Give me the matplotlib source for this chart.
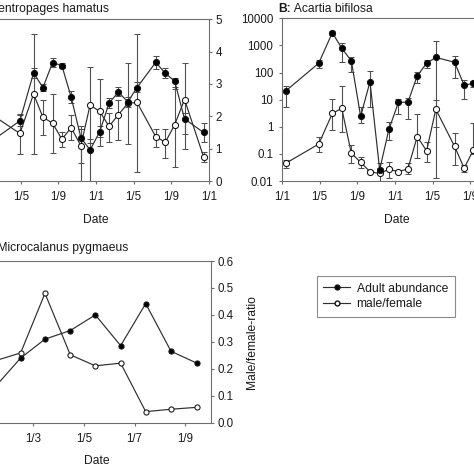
import matplotlib
matplotlib.use("Agg")
import matplotlib.pyplot as plt
from matplotlib.lines import Line2D
import numpy as np

plt.rcParams["font.family"] = ["Liberation Sans", "DejaVu Sans"]

# sampling dates in months from 1 Jan of the first year
dates = [0.4, 3.9, 5.35, 6.35, 7.37, 8.36, 9.35, 10.38, 11.36, 12.38,
         13.38, 14.37, 15.37, 16.35, 18.34, 19.36, 20.35, 21.4, 23.42]

# A: Centropages hamatus
a_adult = [1.13, 1.86, 3.34, 2.89, 3.66, 3.57, 2.59, 1.34, 0.96, 1.52,
           2.41, 2.75, 2.45, 2.89, 3.67, 3.33, 3.09, 1.92, 1.50]
a_adult_lo = [1.0, 1.7, 3.2, 2.78, 3.53, 3.48, 2.4, 0.0, 0.0, 1.37,
              2.25, 2.62, 2.3, 2.75, 3.45, 3.18, 2.85, 1.0, 1.22]
a_adult_hi = [1.3, 2.05, 3.48, 3.0, 3.8, 3.65, 2.78, 1.6, 1.3, 1.7,
              2.58, 2.9, 2.6, 3.05, 3.85, 3.48, 3.2, 2.1, 1.78]
a_ratio = [2.15, 1.47, 2.69, 1.97, 1.79, 1.29, 1.65, 1.09, 2.35, 2.15,
           1.69, 2.05, 2.40, 2.43, 1.37, 1.20, 1.74, 2.52, 0.75]
a_ratio_lo = [1.9, 0.83, 0.83, 1.41, 0.86, 1.04, 1.27, 0.55, 1.17, 1.09,
              1.2, 1.27, 1.15, 0.27, 1.04, 0.70, 0.42, 1.45, 0.6]
a_ratio_hi = [2.4, 2.08, 4.54, 2.52, 2.68, 1.5, 2.04, 1.70, 3.53, 3.16,
              2.1, 2.5, 3.66, 4.54, 1.6, 1.6, 2.9, 3.64, 0.9]

# B: Acartia bifilosa (first 17 dates)
b_adult = [21, 220, 2950, 790, 270, 2.4, 46, 0.026, 0.8, 8,
           8, 75, 220, 360, 240, 34, 40]
b_adult_lo = [5.5, 145, 2500, 250, 108, 1.35, 5.5, 0.02, 0.32, 3,
              2, 40, 145, 0.013, 62, 11, 30]
b_adult_hi = [32, 290, 3300, 1200, 390, 5.5, 117, 0.03, 1.5, 11,
              12, 108, 290, 1500, 410, 53, 50]
b_ratio = [0.045, 0.23, 3.1, 4.8, 0.105, 0.049, 0.022, 0.019, 0.027, 0.022,
           0.028, 0.43, 0.13, 4.4, 0.19, 0.03, 0.14]
b_ratio_lo = [0.03, 0.12, 0.76, 0.66, 0.045, 0.03, 0.019, 0.01, 0.013, 0.02,
              0.018, 0.069, 0.052, 1.0, 0.039, 0.022, 0.1]
b_ratio_hi = [0.06, 0.43, 11, 32, 0.21, 0.075, 0.026, 0.045, 0.05, 0.025,
              0.045, 2.9, 0.28, 10, 0.58, 0.04, 1.4]

# C: Microcalanus pygmaeus
c_dates = [0.5, 1.5, 2.46, 3.46, 4.45, 5.45, 6.44, 7.44, 8.46]
c_adult = [0.134, 0.24, 0.31, 0.342, 0.40, 0.286, 0.442, 0.265, 0.221]
c_ratio = [0.23, 0.259, 0.48, 0.252, 0.211, 0.221, 0.041, 0.050, 0.057]

two_year_ticks = [0, 4, 8, 12, 16, 20, 24]
two_year_labels = ["1/1", "1/5", "1/9", "1/1", "1/5", "1/9", "1/1"]
c_ticks = [2, 4, 6, 8]
c_labels = ["1/3", "1/5", "1/7", "1/9"]

W = H = 474
LINE = "#2e2e2e"
SPINE = "#6e6e6e"
TXT = "#1a1a1a"
FS = 8.7
fig = plt.figure(figsize=(4.74, 4.74), dpi=100)


def px_axes(x0, x1, y0, y1):
    return fig.add_axes([x0 / W, 1 - y1 / H, (x1 - x0) / W, (y1 - y0) / H])


def style(ax):
    for s in ax.spines.values():
        s.set_color(SPINE)
        s.set_linewidth(0.8)
    ax.tick_params(colors=SPINE, labelcolor=TXT, labelsize=8.3,
                   length=2.2, width=0.8)


def bars(ax, x, v, lo, hi, face, ms=4.4):
    v = np.array(v)
    err = [v - np.array(lo), np.array(hi) - v]
    ax.errorbar(x, v, yerr=err, fmt="o-", color=LINE, lw=0.85, ms=ms,
                mfc=face, mec="#111111", mew=0.75, ecolor="#505050",
                elinewidth=0.8, capsize=2.3, capthick=0.8)


def ftext(x, y, s, **kw):
    return fig.text(x / W, 1 - y / H, s, fontsize=FS, color=TXT, **kw)


def title(x, y, letter, name, anchor="left"):
    if anchor == "left":
        t1 = ftext(x, y, letter, fontweight="bold", va="baseline")
        fig.add_artist(plt.Annotation(" " + name, (1, 0), xycoords=t1,
                                      va="bottom", fontsize=FS, color=TXT))
    else:
        t2 = ftext(x, y, " " + name, ha="right", va="baseline")
        fig.add_artist(plt.Annotation(letter, (0, 0), xycoords=t2, ha="right",
                                      va="bottom", fontsize=FS,
                                      fontweight="bold", color=TXT))


# panel A
axA = px_axes(-16.8, 209, 19.3, 181)
bars(axA, dates, a_ratio, a_ratio_lo, a_ratio_hi, "white")
bars(axA, dates, a_adult, a_adult_lo, a_adult_hi, "black")
axA.set_xlim(0, 24)
axA.set_ylim(0, 5)
axA.yaxis.tick_right()
axA.set_xticks(two_year_ticks, two_year_labels)
style(axA)
axA.tick_params(axis="x", pad=5)
axA.tick_params(axis="y", pad=2.5)
ftext(96, 222.7, "Date", ha="center", va="baseline")
title(109.3, 12, "A:", "Centropages hamatus", anchor="right")

# panel B
axB = px_axes(282, 507.8, 18.3, 181)
bars(axB, dates[:17], b_ratio, b_ratio_lo, b_ratio_hi, "white")
bars(axB, dates[:17], b_adult, b_adult_lo, b_adult_hi, "black")
axB.set_yscale("log")
axB.set_xlim(0, 24)
axB.set_ylim(0.01, 10000)
axB.set_yticks([0.01, 0.1, 1, 10, 100, 1000, 10000],
               ["0.01", "0.1", "1", "10", "100", "1000", "10000"])
axB.yaxis.set_minor_locator(plt.NullLocator())
axB.set_xticks(two_year_ticks, two_year_labels)
style(axB)
axB.tick_params(axis="x", pad=5)
axB.tick_params(axis="y", pad=4)
ftext(396.7, 222.7, "Date", ha="center", va="baseline")
title(278.3, 12, "B:", "Acartia bifilosa")

# panel C
axC = px_axes(-17.3, 210.5, 261, 422.7)
axC.plot(c_dates, c_ratio, "o-", color=LINE, lw=0.85, ms=3.7,
         mfc="white", mec="#111111", mew=0.75)
axC.plot(c_dates, c_adult, "o-", color=LINE, lw=0.85, ms=3.7,
         mfc="black", mec="#111111", mew=0.75)
axC.set_xlim(0, 9)
axC.set_ylim(0, 0.6)
axC.yaxis.tick_right()
axC.set_yticks(np.arange(0, 0.61, 0.1))
axC.yaxis.set_major_formatter(plt.FormatStrFormatter("%.1f"))
axC.set_xticks(c_ticks, c_labels)
style(axC)
axC.tick_params(axis="x", pad=5)
axC.tick_params(axis="y", pad=2.5)
ftext(96.7, 464, "Date", ha="center", va="baseline")
ftext(251.7, 341.7, "Male/female-ratio", rotation=90, ha="center", va="center")
title(128, 250.7, "C:", "Microcalanus pygmaeus", anchor="right")

# legend
handles = [
    Line2D([], [], color=LINE, lw=0.85, marker="o", ms=3.5, mfc="black", mec="#111111"),
    Line2D([], [], color=LINE, lw=0.85, marker="o", ms=3.5, mfc="white", mec="#111111"),
]
leg = fig.legend(handles, ["Adult abundance", "male/female"], loc="upper left",
                 bbox_to_anchor=(316.7 / W, 1 - 276 / H), fontsize=FS,
                 frameon=True, fancybox=False, edgecolor=SPINE,
                 handlelength=2.2, handletextpad=0.55, labelspacing=0.3,
                 borderpad=0.55, borderaxespad=0)
leg.get_frame().set_linewidth(0.8)
for t in leg.get_texts():
    t.set_color(TXT)

fig.savefig("out.png", dpi=100)
